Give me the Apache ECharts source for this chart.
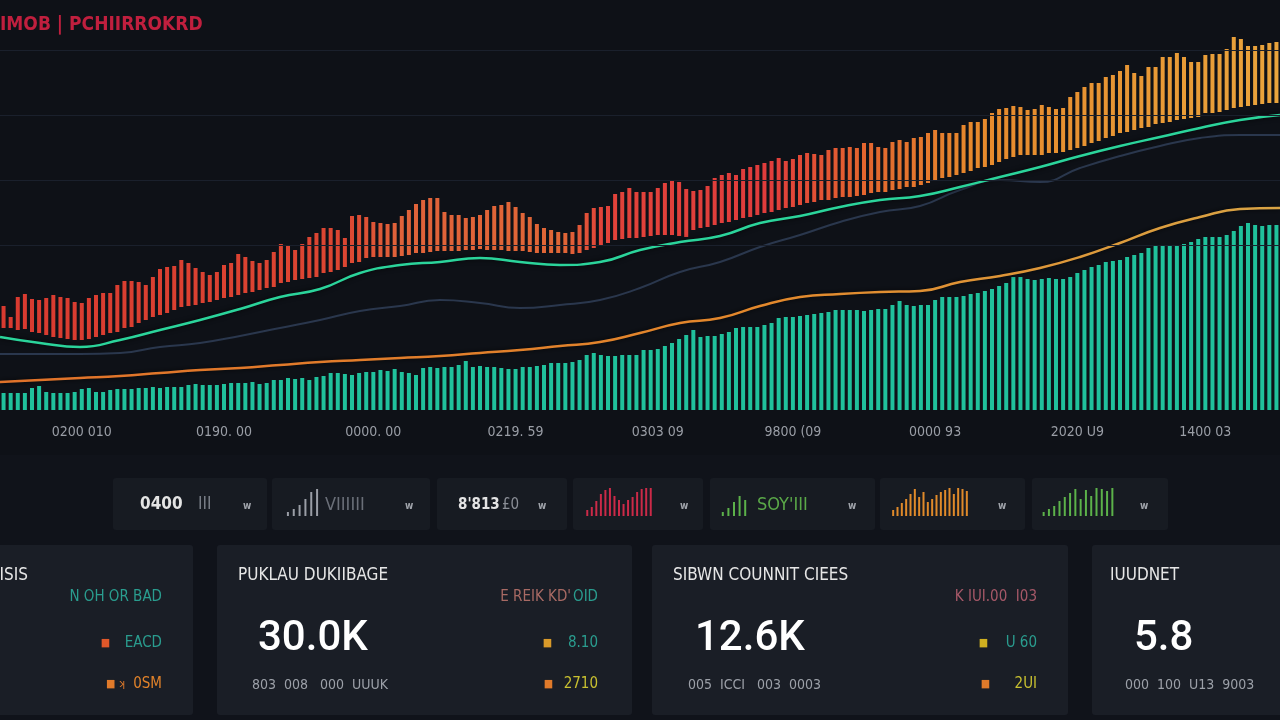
<!DOCTYPE html>
<html><head><meta charset="utf-8">
<script src="https://cdn.jsdelivr.net/npm/echarts@6/dist/echarts.min.js"></script>
<style>html,body{margin:0;padding:0;background:#0e1117;}#c{width:1280px;height:720px;}</style>
</head><body><div id="c"></div>
<script>
// ---- main chart data (values: 0 = bar baseline, 1 unit = 1px) ----
const upperLow = [82,82,80,81,78,77,75,73,72,71,70,70,71,73,75,77,78,82,83,87,
90,93,95,97,100,103,104,105,107,108,110,112,113,115,117,118,120,122,123,127,
128,130,131,132,133,137,138,140,143,147,148,152,153,153,153,153,154,155,157,157,
158,159,159,159,159,160,160,161,160,160,160,159,159,159,158,157,157,157,157,157,
156,157,160,162,165,167,170,171,172,172,173,174,175,175,175,174,173,180,182,183,
185,187,188,190,192,193,195,197,198,200,202,203,205,207,208,210,210,212,213,213,
214,215,217,218,218,220,221,223,223,225,227,230,232,233,235,237,239,242,243,245,
248,251,253,255,255,255,255,257,257,258,260,262,264,267,269,272,274,277,278,280,
282,283,286,287,288,290,291,292,293,297,297,298,300,302,303,304,305,306,307,307];
const upperHigh = [104,93,113,116,111,110,112,115,113,112,108,107,112,115,117,117,125,129,129,128,
125,133,141,143,144,150,147,142,138,135,138,145,147,156,153,149,147,150,158,166,
165,160,166,173,177,182,182,180,172,194,195,193,188,187,186,187,194,200,206,210,
212,212,198,195,195,192,193,195,200,204,205,208,203,197,193,186,182,180,178,177,
178,185,197,202,203,204,216,218,222,218,218,218,222,227,230,228,221,219,220,224,
232,235,237,235,241,243,245,247,249,252,249,251,255,257,256,255,260,262,262,263,
262,267,267,263,262,268,270,268,272,273,277,280,277,277,277,285,288,288,291,297,
301,302,304,303,300,301,305,303,301,302,313,318,323,327,327,333,335,339,345,337,
334,343,343,353,353,357,353,348,348,355,356,356,361,373,371,364,364,365,367,368];
const lowerBars = [17,17,17,17,22,24,18,17,17,17,18,21,22,18,18,20,21,21,21,22,
22,23,22,23,23,23,25,26,25,25,25,26,27,27,27,28,26,27,30,30,
32,31,32,30,33,34,37,37,36,35,37,38,38,40,39,41,38,37,35,42,
43,42,43,43,45,49,43,44,43,43,42,41,41,43,43,44,45,47,47,47,
48,50,55,57,55,54,54,55,55,55,60,60,61,64,67,71,75,80,73,74,
74,76,78,82,83,83,83,85,87,92,93,93,94,95,96,97,98,100,100,100,
100,99,100,101,101,105,109,105,104,105,105,110,113,113,113,114,116,117,119,121,
124,127,133,133,131,130,131,132,131,131,133,137,140,143,145,148,149,150,153,155,
157,162,164,164,164,165,166,168,171,173,173,173,175,179,184,187,185,184,185,185];
const tealLine   = [73,67,63,70,80,90,101,113,121,137,145,148,152,148,145,148,160,168,174,187,194,203,210,214,223,233,243,254,264,273,282,290,295];
const slateLine  = [56,56,56,57,63,67,74,82,90,99,104,110,107,102,105,110,122,138,148,163,175,188,198,204,220,230,228,242,254,264,272,275,275];
const orangeLine = [28,30,32,34,37,40,42,45,48,50,52,54,57,60,64,68,77,87,92,104,113,116,118,119,128,134,142,153,167,182,193,201,202];
const tickIndex  = [11,31,52,72,92,111,131,151,169];
const tickLabels = ["0200 010","0190. 00","0000. 00","0219. 59","0303 09","9800 (09","0000 93","2020 U9","1400 03"];
const gridLevels = [360,295,230,165];

// ---- sparkline data ----
const sparkGray   = [4,7,11,17,24,27];
const sparkRed    = [6,9,15,22,26,28,20,16,12,16,19,24,27,28,28];
const sparkGreenA = [4,8,14,20,16];
const sparkOrange = [6,9,13,17,22,27,19,24,14,17,21,24,26,28,22,28,27,25];
const sparkGreenB = [4,7,10,15,19,23,27,17,26,20,28,27,25,28];

// ---- texts ----
const headerTitle = "IMOB | PCHIIRROKRD";
const cardTitles = ["IISIS","PUKLAU DUKIIBAGE","SIBWN COUNNIT CIEES","IUUDNET"];
const cardValues = ["","30.0K","12.6K","5.8"];
const cardFooters = ["","803  008   000  UUUK","005  ICCI   003  0003","000  100  U13  9003"];

const barCats = upperLow.map((_, i) => i);
const lineCats = tealLine.map((_, i) => i);
const upperSpan = upperHigh.map((v, i) => v - upperLow[i]);

const chart = echarts.init(document.getElementById('c'), null, {renderer: 'canvas'});
const LG = echarts.graphic.LinearGradient;
const upperColor = new LG(0, 0, 1280, 0, [
  {offset: 0, color: '#d93a30'}, {offset: 0.27, color: '#dc4632'},
  {offset: 0.31, color: '#e0623a'}, {offset: 0.44, color: '#e06636'},
  {offset: 0.47, color: '#e2433a'}, {offset: 0.6, color: '#e03c3c'},
  {offset: 0.67, color: '#e3632f'}, {offset: 0.76, color: '#e6892c'},
  {offset: 1, color: '#e9a43c'}], true);
const orangeColor = new LG(0, 0, 1280, 0, [
  {offset: 0, color: '#e0722a'}, {offset: 0.6, color: '#e2882c'}, {offset: 1, color: '#d9a445'}], true);

const FONT = '"DejaVu Sans Condensed","Liberation Sans Narrow",sans-serif';
function txt(text, x, y, fill, size, opts) {
  opts = opts || {};
  return {type: 'text', z: 10, style: {text: text, x: x, y: y, fill: fill,
    font: (opts.weight || 'normal') + ' ' + size + 'px ' + (opts.family || FONT),
    textAlign: opts.align || 'left', textVerticalAlign: 'middle'}};
}
function rect(x, y, w, h, fill) {
  return {type: 'rect', z: 0, shape: {x: x, y: y, width: w, height: h, r: 3}, style: {fill: fill}};
}

const graphics = [];
graphics.push({type: 'rect', z: -1, shape: {x: 0, y: 455, width: 1280, height: 265}, style: {fill: '#10131a'}});
graphics.push(txt(headerTitle, 0, 25, '#c01f3e', 19, {weight: 'bold'}));
// small card row
const rowCards = [[113,154],[272,158],[437,130],[573,130],[710,165],[880,145],[1032,136]];
rowCards.forEach(c => graphics.push(rect(c[0], 478, c[1], 52, '#171b22')));
graphics.push(txt("0400", 140, 505, '#e4e4e4', 17, {weight: 'bold'}));
graphics.push(txt("III", 198, 505, '#777c85', 17));
graphics.push(txt("VIIIIII", 325, 505, '#6a6f78', 18));
graphics.push(txt("8'813", 458, 505, '#e4e4e4', 15, {weight: 'bold'}));
graphics.push(txt("£0", 502, 505, '#8a8e96', 15));
graphics.push(txt("SOY'III", 757, 505, '#5aa848', 18));
[243, 405, 538, 680, 848, 998, 1140].forEach(x => graphics.push(txt("w", x, 506, '#a0a4ab', 10, {weight: 'bold'})));
// bottom cards
graphics.push(rect(-5, 545, 198, 170, '#1a1e26'));
graphics.push(rect(217, 545, 415, 170, '#1a1e26'));
graphics.push(rect(652, 545, 416, 170, '#1a1e26'));
graphics.push(rect(1092, 545, 200, 170, '#1a1e26'));
graphics.push(txt(cardTitles[0], 28, 576, '#e6e6e6', 17, {align: 'right'}));
graphics.push(txt(cardTitles[1], 238, 576, '#e6e6e6', 17));
graphics.push(txt(cardTitles[2], 673, 576, '#e6e6e6', 17));
graphics.push(txt(cardTitles[3], 1110, 576, '#e6e6e6', 17));
graphics.push(txt(cardValues[1], 258, 639, '#ffffff', 42, {weight: '500', family: 'Roboto,sans-serif'}));
graphics.push(txt(cardValues[2], 695, 639, '#ffffff', 42, {weight: '500', family: 'Roboto,sans-serif'}));
graphics.push(txt(cardValues[3], 1134, 639, '#ffffff', 42, {weight: '500', family: 'Roboto,sans-serif'}));
graphics.push(txt(cardFooters[1], 252, 685, '#9ca0a8', 14));
graphics.push(txt(cardFooters[2], 688, 685, '#9ca0a8', 14));
graphics.push(txt(cardFooters[3], 1125, 685, '#9ca0a8', 14));
// right-side deltas
graphics.push(txt("N OH OR BAD", 162, 597, '#2a9d8f', 15, {align: 'right'}));
graphics.push(txt("■", 110, 643, '#e0582a', 11, {align: 'right'}));
graphics.push(txt("EACD", 162, 643, '#2a9d8f', 15, {align: 'right'}));
graphics.push(txt("■ ʞ", 125, 684, '#e07a2a', 11, {align: 'right'}));
graphics.push(txt("0SM", 162, 684, '#e0822a', 15, {align: 'right'}));
graphics.push(txt("E REIK KD'", 571, 597, '#a86a64', 15, {align: 'right'}));
graphics.push(txt("OID", 598, 597, '#2a9d8f', 15, {align: 'right'}));
graphics.push(txt("■", 552, 643, '#d99a2a', 11, {align: 'right'}));
graphics.push(txt("8.10", 598, 643, '#2a9d8f', 15, {align: 'right'}));
graphics.push(txt("■", 553, 684, '#e07a2a', 11, {align: 'right'}));
graphics.push(txt("2710", 598, 684, '#c8c030', 15, {align: 'right'}));
graphics.push(txt("K IUI.00  I03", 1037, 597, '#a65868', 15, {align: 'right'}));
graphics.push(txt("■", 988, 643, '#d0b020', 11, {align: 'right'}));
graphics.push(txt("U 60", 1037, 643, '#2a9d8f', 15, {align: 'right'}));
graphics.push(txt("■", 990, 684, '#e07a2a', 11, {align: 'right'}));
graphics.push(txt("2UI", 1037, 684, '#c8c030', 15, {align: 'right'}));

// spark grids
const sparks = [
  {data: sparkGray, left: 285, width: 35, color: '#9a9ea6'},
  {data: sparkRed, left: 585, width: 68, color: '#cc2a48'},
  {data: sparkGreenA, left: 720, width: 28, color: '#5cb24a'},
  {data: sparkOrange, left: 891, width: 78, color: '#e08a2a'},
  {data: sparkGreenB, left: 1041, width: 74, color: '#5cb24a'}
];

const grids = [{left: 0, right: 0, top: 10, bottom: 310}];
const xAxes = [
  {type: 'category', data: barCats, gridIndex: 0, boundaryGap: true,
   axisLine: {show: false}, axisTick: {show: false}, splitLine: {show: false},
   axisLabel: {color: '#9a9ea6', fontSize: 14, margin: 15, fontFamily: FONT,
     interval: (idx) => tickIndex.indexOf(idx) >= 0,
     formatter: (v, idx) => tickLabels[tickIndex.indexOf(idx)] || ''}},
  {type: 'category', data: lineCats, gridIndex: 0, boundaryGap: false, show: false}
];
const yAxes = [{type: 'value', gridIndex: 0, min: 0, max: 400, show: false, splitLine: {show: false}}];
const series = [
  {type: 'bar', xAxisIndex: 0, yAxisIndex: 0, stack: 'up', data: upperLow, barWidth: 4, barGap: '-100%',
   itemStyle: {color: 'rgba(0,0,0,0)'}, silent: true, z: 2},
  {type: 'bar', xAxisIndex: 0, yAxisIndex: 0, stack: 'up', data: upperSpan, barWidth: 4, barGap: '-100%',
   itemStyle: {color: upperColor}, z: 2},
  {type: 'bar', xAxisIndex: 0, yAxisIndex: 0, data: lowerBars, barWidth: 4, barGap: '-100%',
   itemStyle: {color: '#20c19c'}, z: 2,
   markLine: {silent: true, symbol: ['none', 'none'], label: {show: false},
     lineStyle: {color: '#1a202c', type: 'solid', width: 1},
     data: gridLevels.map(v => ({yAxis: v}))}},
  {type: 'line', xAxisIndex: 1, yAxisIndex: 0, data: slateLine, smooth: true, symbol: 'none', z: 3,
   lineStyle: {color: '#2a374d', width: 2}},
  {type: 'line', xAxisIndex: 1, yAxisIndex: 0, data: orangeLine, smooth: true, symbol: 'none', z: 4,
   lineStyle: {color: orangeColor, width: 2.5, shadowColor: 'rgba(0,0,0,0.8)', shadowBlur: 5}},
  {type: 'line', xAxisIndex: 1, yAxisIndex: 0, data: tealLine, smooth: true, symbol: 'none', z: 4,
   lineStyle: {color: '#2bd49b', width: 2.5, shadowColor: 'rgba(0,0,0,0.8)', shadowBlur: 5}}
];
sparks.forEach((s, k) => {
  const gi = k + 1;
  grids.push({left: s.left, top: 488, width: s.width, height: 28});
  xAxes.push({type: 'category', gridIndex: gi, data: s.data.map((_, i) => i), show: false});
  yAxes.push({type: 'value', gridIndex: gi, min: 0, max: 28, show: false});
  series.push({type: 'bar', xAxisIndex: gi + 1, yAxisIndex: gi, data: s.data, barWidth: 2, itemStyle: {color: s.color}});
});

chart.setOption({
  backgroundColor: '#0e1117',
  animation: false,
  grid: grids, xAxis: xAxes, yAxis: yAxes, series: series,
  graphic: {elements: graphics}
});
</script></body></html>
